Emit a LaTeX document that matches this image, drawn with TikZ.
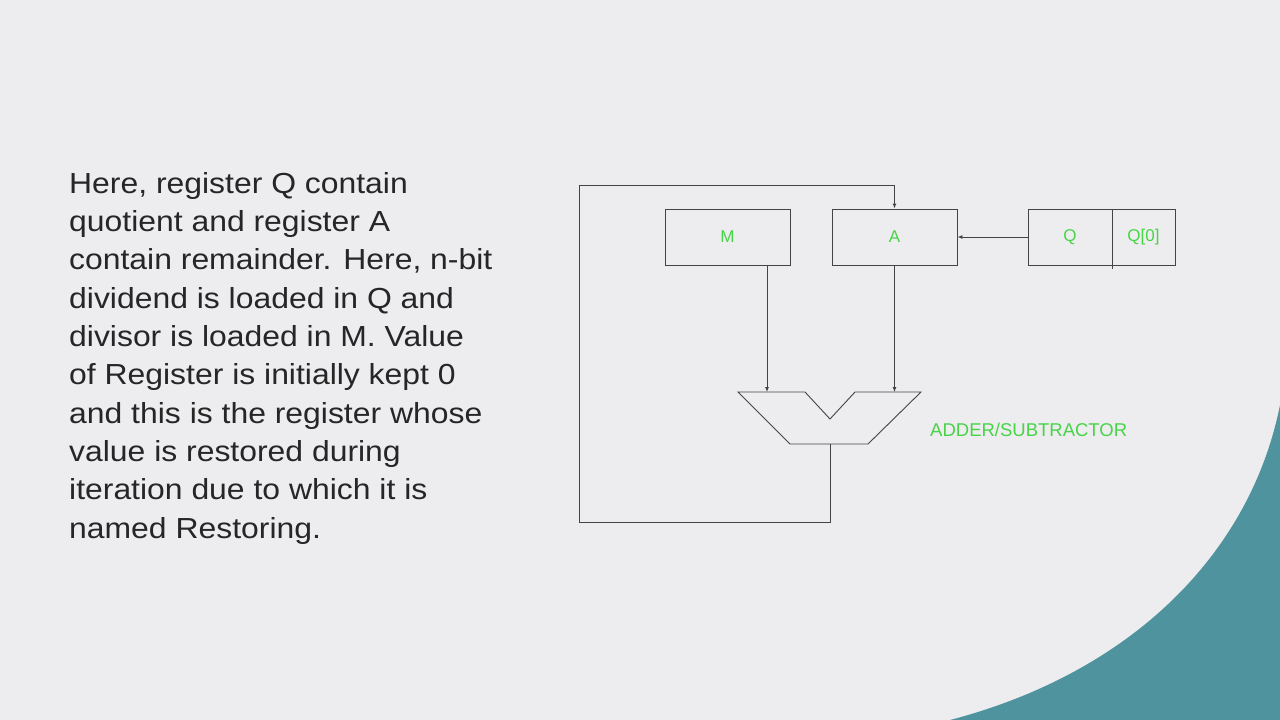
\documentclass[tikz,border=0pt]{standalone}
\usepackage{fontspec}
\setmainfont{Liberation Sans}
\newfontfamily\slidefont[FakeStretch=1.1]{Liberation Sans}
\usetikzlibrary{arrows.meta}
\definecolor{slidebg}{HTML}{EDECEF}
\definecolor{slideteal}{HTML}{4E939E}
\definecolor{reggreen}{HTML}{47D447}
\definecolor{bodytext}{HTML}{262626}
\definecolor{wire}{HTML}{444444}
\begin{document}
\begin{tikzpicture}
[x=1pt,y=-1pt,
  regdecorate/.style={shape=rectangle,draw=wire,line width=0.9pt,inner sep=0pt,minimum height=56pt,text=reggreen,font=\fontsize{17}{17}\selectfont},
  linedecorate/.style={draw=wire,line width=0.9pt},
  arrowdecorate/.style={linedecorate,-{Latex[length=5pt,width=4pt]}}]
% slide background
\fill[slidebg] (0,0) rectangle (1280,720);
\fill[slideteal] (1280,405) .. controls (1250,555) and (1130,673) .. (950,720) -- (1280,720) -- cycle;
% explanation text
\node (para) [anchor=north west,inner sep=0pt,align=left,text=bodytext,font=\slidefont\fontsize{29}{38.33}\selectfont] at (69,172)
{Here, register Q contain\\
quotient and register A\\
contain remainder. Here, n-bit\\
dividend is loaded in Q and\\
divisor is loaded in M. Value\\
of Register is initially kept 0\\
and this is the register whose\\
value is restored during\\
iteration due to which it is\\
named Restoring.};
% registers
\node (M) at (727.5,237) [regdecorate,minimum width=125pt] {M};
\node (A) at (894.5,237) [regdecorate,minimum width=125pt] {A};
\node (Q) at (1070,237) [regdecorate,minimum width=84pt] {Q};
\node (Q0) at (1143.5,237) [regdecorate,minimum width=63pt] {Q[0]};
\draw[linedecorate] (Q.south east) -- ++(0,4);
% adder/subtractor
\coordinate (addinM) at (767,392);
\coordinate (addinA) at (894.5,392);
\coordinate (addout) at (830,444);
\draw[linedecorate,line join=miter] (738,392) -- (805,392) -- (830,419) -- (855,392) -- (921,392) -- (868,444) -- (790,444) -- cycle;
\node (addlabel) [anchor=west,inner sep=0pt,text=reggreen,font=\fontsize{18.5}{18.5}\selectfont] at (930,430) {ADDER/SUBTRACTOR};
% feedback loop corners
\coordinate (loopbl) at (579,522);
\coordinate (looptl) at (579,185);
% connections
\draw[arrowdecorate] (Q.west) -- (A.east);
\draw[arrowdecorate] (addinM |- M.south) -- (addinM);
\draw[arrowdecorate] (A.south) -- (addinA);
\draw[arrowdecorate] (addout) |- (loopbl) -- (looptl) -- (looptl -| A.north) -- (A.north);
\end{tikzpicture}
\end{document}
